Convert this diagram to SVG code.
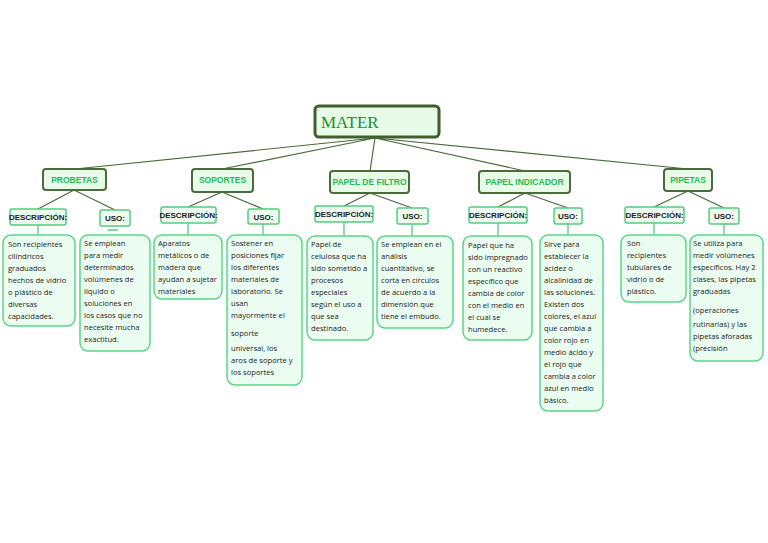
<svg xmlns="http://www.w3.org/2000/svg" width="768" height="543" viewBox="0 0 768 543">
<style>
.root{fill:#e8fbe9;stroke:#3f5f2f;stroke-width:3}
.top{fill:#e8fbe9;stroke:#4a6b3a;stroke-width:2}
.tt{font-family:"Liberation Sans",sans-serif;font-weight:bold;font-size:8.5px;fill:#22bb55;text-anchor:middle}
.sub{fill:#eefcf0;stroke:#55cc80;stroke-width:1.5}
.st{font-family:"Liberation Sans",sans-serif;font-weight:bold;font-size:8px;fill:#222;text-anchor:middle}
.box{fill:#ebfdf0;stroke:#5cd58a;stroke-width:1.5}
.bt{font-family:"Open Sans","Liberation Sans",sans-serif;font-size:7.6px;fill:#222}
.c{stroke:#4a6b3a;stroke-width:1.2;fill:none}
.g{stroke:#55cc80;stroke-width:1.3;fill:none}
</style>
<rect width="768" height="543" fill="#fff"/>
<g id="connectors">
<path class="c" d="M375 138L75 169M375 138L222 169M375 138L370 171M375 138L525 171M375 138L688 169"/>
<path class="c" d="M74 190L38 209M74 190L115 210M222 192L188 207M222 192L263 209M370 193L344 206M370 193L412 208M525 193L498 207M525 193L568 208M688 191L654 207M688 191L724 208"/>
<path class="g" d="M38 225V235M188 223V235M263 224V235M344 222V236M412 224V236M498 223V236M568 224V235M654 223V235M724 224V235M108 230H118"/>
</g>
<g id="mater"><rect class="root" x="315" y="106" width="124" height="31" rx="4"/><text x="321" y="128" font-family="Liberation Serif,serif" font-size="17" fill="#1c8f2a">MATER</text></g>
<g id="probetas"><rect class="top" x="43" y="169" width="63" height="21" rx="3"/><text class="tt" x="74.5" y="183">PROBETAS</text></g>
<g id="soportes"><rect class="top" x="192" y="169" width="61" height="23" rx="3"/><text class="tt" x="222.5" y="183">SOPORTES</text></g>
<g id="filtro"><rect class="top" x="330" y="171" width="79" height="22" rx="3"/><text class="tt" x="369.5" y="185">PAPEL DE FILTRO</text></g>
<g id="indicador"><rect class="top" x="479" y="171" width="91" height="22" rx="3"/><text class="tt" x="524.5" y="185">PAPEL INDICADOR</text></g>
<g id="pipetas"><rect class="top" x="664" y="169" width="48" height="22" rx="3"/><text class="tt" x="688" y="183">PIPETAS</text></g>

<g id="p-desc"><rect class="sub" x="10" y="209" width="56" height="16" rx="2"/><text class="st" x="38" y="220">DESCRIPCIÓN:</text></g>
<g id="p-uso"><rect class="sub" x="100" y="210" width="30" height="16" rx="2"/><text class="st" x="115" y="221">USO:</text></g>
<g id="s-desc"><rect class="sub" x="161" y="207" width="55" height="16" rx="2"/><text class="st" x="188.5" y="218">DESCRIPCIÓN:</text></g>
<g id="s-uso"><rect class="sub" x="248" y="209" width="31" height="15" rx="2"/><text class="st" x="263.5" y="220">USO:</text></g>
<g id="f-desc"><rect class="sub" x="315" y="206" width="58" height="16" rx="2"/><text class="st" x="344" y="217">DESCRIPCIÓN:</text></g>
<g id="f-uso"><rect class="sub" x="397" y="208" width="31" height="16" rx="2"/><text class="st" x="412.5" y="219">USO:</text></g>
<g id="i-desc"><rect class="sub" x="469" y="207" width="58" height="16" rx="2"/><text class="st" x="498" y="218">DESCRIPCIÓN:</text></g>
<g id="i-uso"><rect class="sub" x="554" y="208" width="28" height="16" rx="2"/><text class="st" x="568" y="219">USO:</text></g>
<g id="pi-desc"><rect class="sub" x="625" y="207" width="59" height="16" rx="2"/><text class="st" x="654.5" y="218">DESCRIPCIÓN:</text></g>
<g id="pi-uso"><rect class="sub" x="709" y="208" width="30" height="16" rx="2"/><text class="st" x="724" y="219">USO:</text></g>

<g id="p-desc-t"><rect class="box" x="3" y="235" width="72" height="91" rx="8"/>
<text class="bt"><tspan x="8" y="247">Son recipientes</tspan><tspan x="8" y="259">cilíndricos</tspan><tspan x="8" y="271">graduados</tspan><tspan x="8" y="283">hechos de vidrio</tspan><tspan x="8" y="295">o plástico de</tspan><tspan x="8" y="307">diversas</tspan><tspan x="8" y="319">capacidades.</tspan></text></g>
<g id="p-uso-t"><rect class="box" x="80" y="235" width="70" height="116" rx="8"/>
<text class="bt"><tspan x="84" y="246">Se emplean</tspan><tspan x="84" y="258">para medir</tspan><tspan x="84" y="270">determinados</tspan><tspan x="84" y="282">volúmenes de</tspan><tspan x="84" y="294">líquido o</tspan><tspan x="84" y="306">soluciones en</tspan><tspan x="84" y="318">los casos que no</tspan><tspan x="84" y="330">necesite mucha</tspan><tspan x="84" y="342">exactitud.</tspan></text></g>
<g id="s-desc-t"><rect class="box" x="154" y="235" width="68" height="64" rx="8"/>
<text class="bt"><tspan x="158" y="246">Aparatos</tspan><tspan x="158" y="258">metálicos o de</tspan><tspan x="158" y="270">madera que</tspan><tspan x="158" y="282">ayudan a sujetar</tspan><tspan x="158" y="294">materiales</tspan></text></g>
<g id="s-uso-t"><rect class="box" x="227" y="235" width="75" height="150" rx="8"/>
<text class="bt"><tspan x="231" y="246">Sostener en</tspan><tspan x="231" y="258">posiciones fijar</tspan><tspan x="231" y="270">los diferentes</tspan><tspan x="231" y="282">materiales de</tspan><tspan x="231" y="294">laboratorio. Se</tspan><tspan x="231" y="306">usan</tspan><tspan x="231" y="318">mayormente el</tspan><tspan x="231" y="336">soporte</tspan><tspan x="231" y="351">universal, los</tspan><tspan x="231" y="363">aros de soporte y</tspan><tspan x="231" y="375">los soportes</tspan></text></g>
<g id="f-desc-t"><rect class="box" x="307" y="236" width="66" height="104" rx="8"/>
<text class="bt"><tspan x="311" y="247">Papel de</tspan><tspan x="311" y="259">celulosa que ha</tspan><tspan x="311" y="271">sido sometido a</tspan><tspan x="311" y="283">procesos</tspan><tspan x="311" y="295">especiales</tspan><tspan x="311" y="307">según el uso a</tspan><tspan x="311" y="319">que sea</tspan><tspan x="311" y="331">destinado.</tspan></text></g>
<g id="f-uso-t"><rect class="box" x="377" y="236" width="76" height="92" rx="8"/>
<text class="bt"><tspan x="381" y="247">Se emplean en el</tspan><tspan x="381" y="259">análisis</tspan><tspan x="381" y="271">cuantitativo, se</tspan><tspan x="381" y="283">corta en círculos</tspan><tspan x="381" y="295">de acuerdo a la</tspan><tspan x="381" y="307">dimensión que</tspan><tspan x="381" y="319">tiene el embudo.</tspan></text></g>
<g id="i-desc-t"><rect class="box" x="463" y="236" width="69" height="104" rx="8"/>
<text class="bt"><tspan x="468" y="248">Papel que ha</tspan><tspan x="468" y="260">sido impregnado</tspan><tspan x="468" y="272">con un reactivo</tspan><tspan x="468" y="284">específico que</tspan><tspan x="468" y="296">cambia de color</tspan><tspan x="468" y="308">con el medio en</tspan><tspan x="468" y="320">el cual se</tspan><tspan x="468" y="332">humedece.</tspan></text></g>
<g id="i-uso-t"><rect class="box" x="540" y="235" width="63" height="176" rx="8"/>
<text class="bt"><tspan x="544" y="247">Sirve para</tspan><tspan x="544" y="259">establecer la</tspan><tspan x="544" y="271">acidez o</tspan><tspan x="544" y="283">alcalinidad de</tspan><tspan x="544" y="295">las soluciones.</tspan><tspan x="544" y="307">Existen dos</tspan><tspan x="544" y="319">colores, el azul</tspan><tspan x="544" y="331">que cambia a</tspan><tspan x="544" y="343">color rojo en</tspan><tspan x="544" y="355">medio ácido y</tspan><tspan x="544" y="367">el rojo que</tspan><tspan x="544" y="379">cambia a color</tspan><tspan x="544" y="391">azul en medio</tspan><tspan x="544" y="403">básico.</tspan></text></g>
<g id="pi-desc-t"><rect class="box" x="621" y="235" width="65" height="67" rx="8"/>
<text class="bt"><tspan x="627" y="246">Son</tspan><tspan x="627" y="258">recipientes</tspan><tspan x="627" y="270">tubulares de</tspan><tspan x="627" y="282">vidrio o de</tspan><tspan x="627" y="294">plástico.</tspan></text></g>
<g id="pi-uso-t"><rect class="box" x="690" y="235" width="73" height="126" rx="8"/>
<text class="bt"><tspan x="693" y="246">Se utiliza para</tspan><tspan x="693" y="258">medir volúmenes</tspan><tspan x="693" y="270">específicos. Hay 2</tspan><tspan x="693" y="282">clases, las pipetas</tspan><tspan x="693" y="294">graduadas</tspan><tspan x="693" y="313">(operaciones</tspan><tspan x="693" y="327">rutinarias) y las</tspan><tspan x="693" y="339">pipetas aforadas</tspan><tspan x="693" y="351">(precisión</tspan></text></g>
</svg>
